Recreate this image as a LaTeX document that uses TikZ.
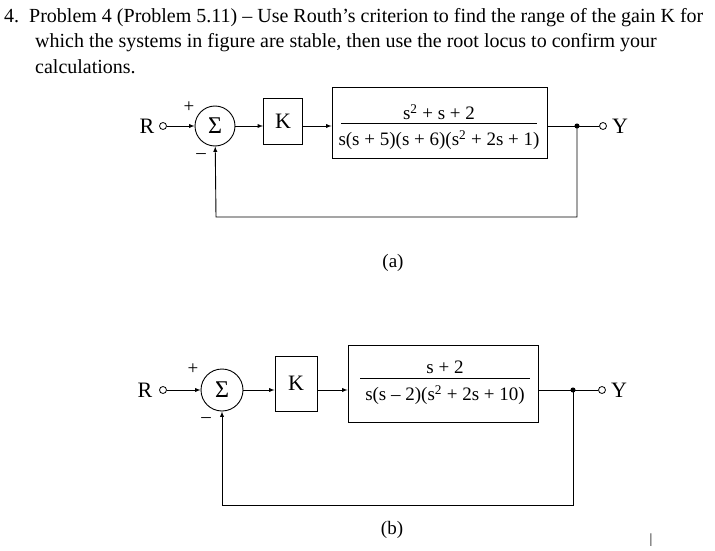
\documentclass[tikz,border=0pt]{standalone}
\usepackage{fontspec}
\setmainfont{Liberation Serif}
\begin{document}
\begin{tikzpicture}[x=1pt,y=-1pt,
  blk/.style={draw,line width=0.9pt,inner sep=0pt},
  sumc/.style={draw,circle,line width=0.9pt,minimum size=40pt,inner sep=0pt,font=\fontsize{24}{26}\selectfont},
  term/.style={draw,circle,minimum size=7pt,inner sep=0pt,line width=0.8pt},
  ln/.style={line width=0.9pt},
  arr/.style={ln,-latex},
  lbl/.style={font=\fontsize{19}{21}\selectfont},
  big/.style={font=\fontsize{22}{24}\selectfont},
  sg/.style={font=\fontsize{19}{19}\selectfont},
  txt/.style={font=\fontsize{20}{22}\selectfont,anchor=west,inner sep=0pt}]
\useasboundingbox (0,0) rectangle (715,551);
\node[txt] (l1) at (4,18) {4.\ \ Problem 4 (Problem 5.11) -- Use Routh's criterion to find the range of the gain K for};
\node[txt] (l2) at (35,43) {which the systems in figure are stable, then use the root locus to confirm your};
\node[txt] (l3) at (35,67) {calculations.};
% (a)
\node[big] (Ra) at (147,126) {R};
\node[term] (ra) at (163,126) {};
\node[sumc] (sa) at (215,126) {Σ};
\node[blk,minimum width=39pt,minimum height=46pt,big] (ka) at (283,121) {K};
\node[blk,minimum width=215pt,minimum height=71pt] (ga) at (439.5,122.5) {};
\node[lbl] (na) at (439,112) {s\textsuperscript{2} + s + 2};
\node[lbl] (da) at (439,140) {s(s + 5)(s + 6)(s\textsuperscript{2} + 2s + 1)};
\draw[ln] (341,123) -- (537,123);
\node[circle,fill,inner sep=1.8pt] (pa) at (577,126) {};
\node[term] (ya) at (603,126) {};
\node[big] (Ya) at (620,126) {Y};
\coordinate (ca) at (577,217);
\coordinate (ea) at (216,217);
\draw[arr] (ra) -- (sa);
\draw[arr] (sa) -- (ka.west|-sa);
\draw[arr] (ka.east|-sa) -- (ga.west|-sa);
\draw[ln] (ga.east|-sa) -- (ya);
\draw[arr] (pa.center) -- (ca) -- (ea) -- (sa);
\node[sg] (pla) at (189,107) {+};
\node[sg] (mia) at (201,156) {--};
\node[lbl] (cap) at (393,263) {(a)};
% (b)
\node[big] (Rb) at (145,390) {R};
\node[term] (rb) at (163,390) {};
\node[sumc,minimum size=42pt] (sb) at (222,390) {Σ};
\node[blk,minimum width=42pt,minimum height=55pt,big] (kb) at (296,383.5) {K};
\node[blk,minimum width=190pt,minimum height=77pt] (gb) at (443,383.5) {};
\node[lbl] (nb) at (445,367) {s + 2};
\node[lbl] (db) at (445,395) {s(s -- 2)(s\textsuperscript{2} + 2s + 10)};
\draw[ln] (360,378) -- (530,378);
\node[circle,fill,inner sep=1.8pt] (pb) at (573,390) {};
\node[term] (yb) at (602,390) {};
\node[big] (Yb) at (619,390) {Y};
\coordinate (cb) at (573,505);
\coordinate (eb) at (222,505);
\draw[arr] (rb) -- (sb);
\draw[arr] (sb) -- (kb.west|-sb);
\draw[arr] (kb.east|-sb) -- (gb.west|-sb);
\draw[ln] (gb.east|-sb) -- (yb);
\draw[arr] (pb.center) -- (cb) -- (eb) -- (sb);
\node[sg] (plb) at (193,369) {+};
\node[sg] (mib) at (206,420) {--};
\node[lbl] (capb) at (392,530) {(b)};
\node[font=\fontsize{14}{14}\selectfont] (bar) at (651,540) {|};
\end{tikzpicture}
\end{document}
